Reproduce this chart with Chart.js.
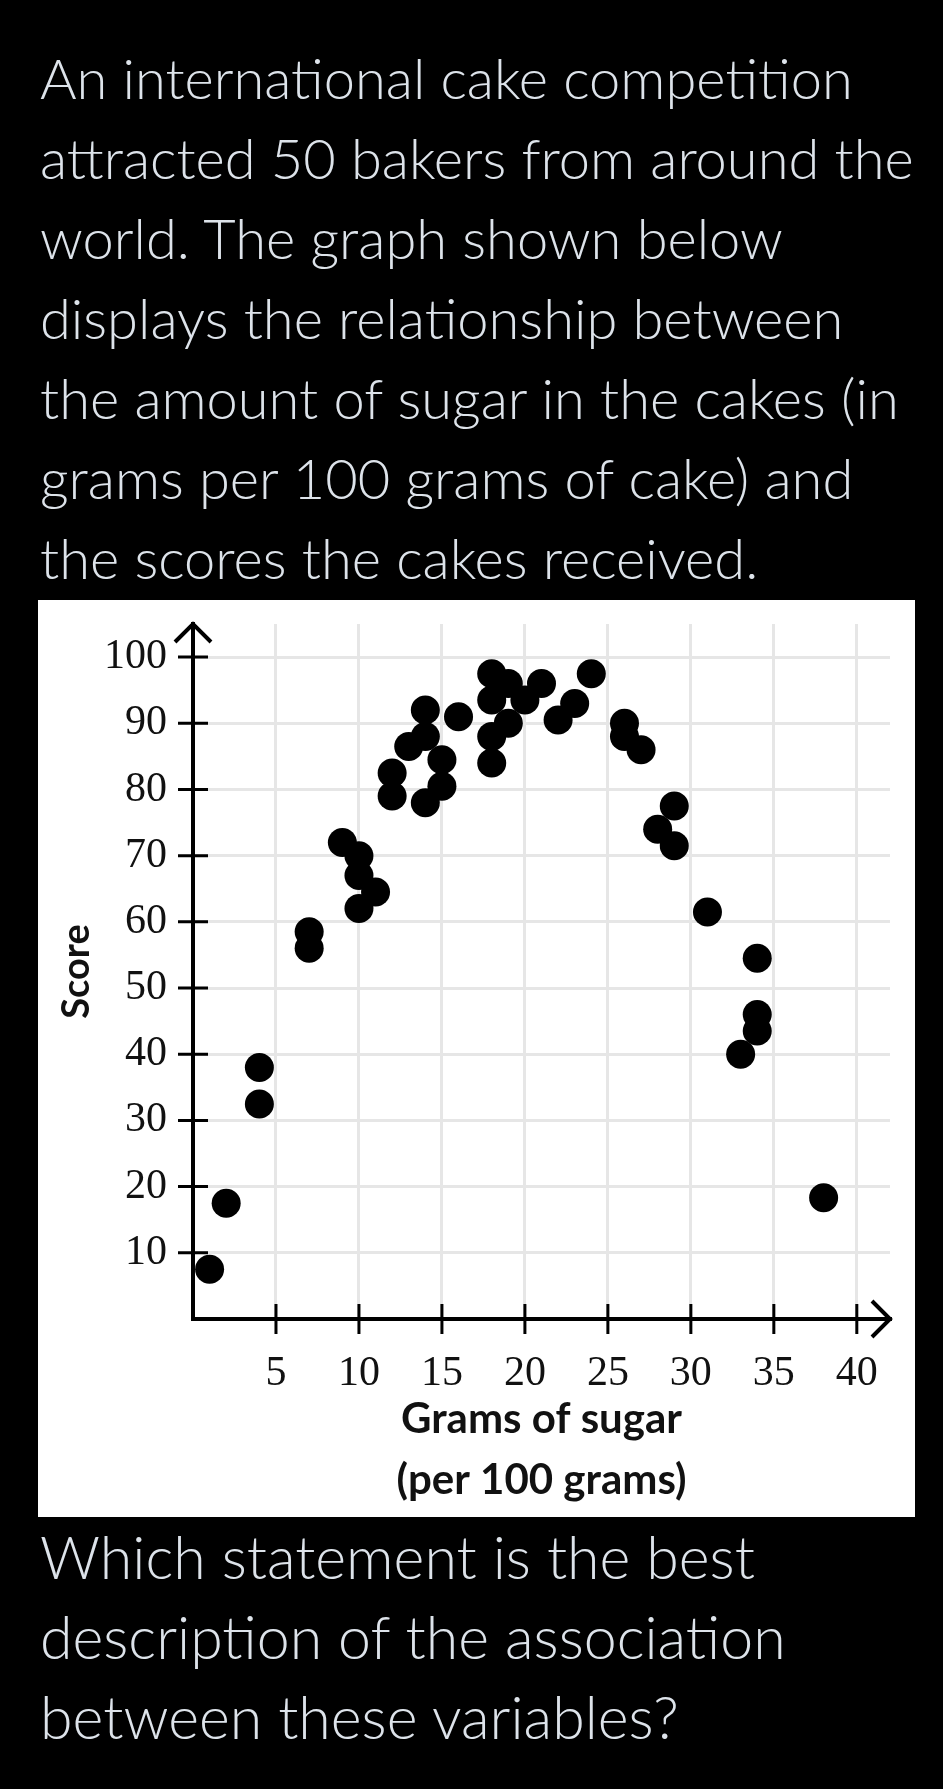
<!DOCTYPE html>
<html>
<head>
<meta charset="utf-8">
<script src="https://cdn.jsdelivr.net/npm/chart.js@4"></script>
<style>
  html, body { margin: 0; padding: 0; background: #000; }
  body { width: 943px; height: 1789px; position: relative; overflow: hidden; }
  .txt {
    position: absolute; left: 40px;
    font-family: Lato, "Open Sans", sans-serif; font-weight: 300;
    line-height: 80px; color: #dde3ea; white-space: nowrap;
  }
  #top { top: 38px; font-size: 56px; }
  #bottom { top: 1517px; font-size: 59px; }
  #box { position: absolute; left: 38px; top: 600px; width: 877px; height: 917px; background: #fff; }
</style>
</head>
<body>
<div class="txt" id="top">
  <div>An international cake competition</div>
  <div>attracted 50 bakers from around the</div>
  <div>world. The graph shown below</div>
  <div>displays the relationship between</div>
  <div>the amount of sugar in the cakes (in</div>
  <div>grams per 100 grams of cake) and</div>
  <div>the scores the cakes received.</div>
</div>
<div id="box"><canvas id="sugarChart"></canvas></div>
<div class="txt" id="bottom">
  <div>Which statement is the best</div>
  <div>description of the association</div>
  <div>between these variables?</div>
</div>
<script>
// grams of sugar per 100 g, and the score each cake got
const sugar = [1, 2, 4, 4, 7, 7, 9, 10, 10, 10, 11, 12, 12, 13, 14, 14, 14, 15, 15, 16,
  18, 18, 18, 18, 19, 19, 20, 21, 22, 23, 24, 26, 26, 27, 28, 29, 29, 31, 33, 34, 34, 34, 38];
const score = [7.5, 17.5, 32.5, 38, 56, 58.5, 72, 70, 67, 62, 64.5, 82.5, 79, 86.5, 92, 88, 78, 84.5, 80.5, 91,
  97.5, 93.5, 88, 84, 96, 90, 93.5, 96, 90.5, 93, 97.5, 90, 88, 86, 74, 77.5, 71.5, 61.5, 40, 54.5, 46, 43.5, 18.3];

const xTicks = [5, 10, 15, 20, 25, 30, 35, 40];
const yTicks = [10, 20, 30, 40, 50, 60, 70, 80, 90, 100];
const xTitle = ['Grams of sugar', '(per 100 grams)'];
const yTitle = 'Score';

const tickFont = { family: '"Liberation Serif", "DejaVu Serif", serif', size: 42 };
const xTitleFont = { family: 'Lato, sans-serif', size: 42, weight: 'bold', lineHeight: 1.43 };
const yTitleFont = { family: 'Lato, sans-serif', size: 38, weight: 'bold', lineHeight: 1.2 };

// tick marks crossing the axes + arrow heads
const axisDecor = {
  id: 'axisDecor',
  beforeDatasetsDraw(chart) {
    const { ctx, chartArea, scales } = chart;
    const x0 = chartArea.left, y0 = chartArea.bottom;
    ctx.save();
    ctx.strokeStyle = '#000';
    ctx.lineWidth = 3;
    ctx.beginPath();
    xTicks.forEach(v => {
      const px = scales.x.getPixelForValue(v);
      ctx.moveTo(px, y0 - 15);
      ctx.lineTo(px, y0 + 15);
    });
    yTicks.forEach(v => {
      const py = scales.y.getPixelForValue(v);
      ctx.moveTo(x0 - 15, py);
      ctx.lineTo(x0 + 15, py);
    });
    ctx.stroke();

    ctx.lineWidth = 4;
    ctx.beginPath();
    // up arrow
    ctx.moveTo(x0 - 18, chartArea.top + 18);
    ctx.lineTo(x0, chartArea.top);
    ctx.lineTo(x0 + 18, chartArea.top + 18);
    // right arrow
    ctx.moveTo(chartArea.right - 18, y0 - 18);
    ctx.lineTo(chartArea.right, y0);
    ctx.lineTo(chartArea.right - 18, y0 + 18);
    ctx.stroke();
    ctx.restore();
  }
};

const gridColor = ctx => ctx.tick && ctx.tick.value === 0 ? 'rgba(0,0,0,0)' : '#e6e6e6';

new Chart(document.getElementById('sugarChart'), {
  type: 'scatter',
  data: {
    datasets: [{
      data: sugar.map((s, i) => ({ x: s, y: score[i] })),
      backgroundColor: '#000',
      borderWidth: 0,
      pointRadius: 14.5,
      pointHoverRadius: 14.5,
      clip: false
    }]
  },
  options: {
    responsive: true,
    maintainAspectRatio: false,
    animation: false,
    layout: { padding: { top: 24, right: 25, left: 0, bottom: 0 } },
    plugins: { legend: { display: false }, tooltip: { enabled: false } },
    scales: {
      x: {
        type: 'linear', min: 0, max: 42,
        afterFit: s => { s.height = 198; s.paddingLeft = 0; s.paddingRight = 0; },
        grid: { color: gridColor, lineWidth: 3, drawTicks: false },
        border: { color: '#000', width: 4 },
        ticks: {
          stepSize: 5, includeBounds: false, padding: 30, color: '#111', font: tickFont,
          maxRotation: 0, autoSkip: false,
          callback: v => xTicks.includes(v) ? String(v) : ''
        },
        title: { display: true, text: xTitle, color: '#111', font: xTitleFont, padding: { top: 0, bottom: 7 } }
      },
      y: {
        type: 'linear', min: 0, max: 105,
        afterFit: s => { s.width = 155; s.paddingTop = 0; s.paddingBottom = 0; },
        grid: { color: gridColor, lineWidth: 3, drawTicks: false },
        border: { color: '#000', width: 4 },
        ticks: {
          stepSize: 10, includeBounds: false, padding: 26, color: '#111', font: tickFont,
          autoSkip: false,
          callback: v => yTicks.includes(v) ? String(v) : ''
        },
        title: { display: true, text: yTitle, color: '#111', font: yTitleFont, padding: { top: 16, bottom: 0 } }
      }
    }
  },
  plugins: [axisDecor]
});
</script>
</body>
</html>
